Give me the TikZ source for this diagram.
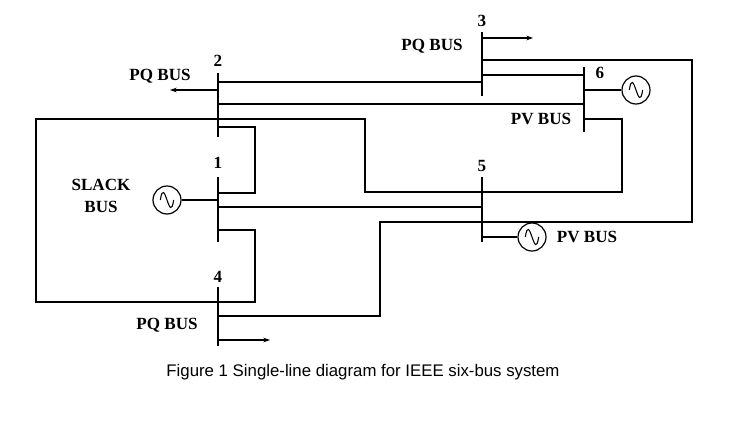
\documentclass[tikz,border=0pt]{standalone}
\usepackage{fontspec}
\setmainfont{Liberation Serif}
\newfontfamily\capfont{Liberation Sans}
\usetikzlibrary{arrows.meta}
\begin{document}
\begin{tikzpicture}[x=0.75pt,y=-0.75pt,
  bus/.style={line width=2.2pt},
  ln/.style={line width=0.9pt},
  lbl/.style={font=\bfseries\fontsize{12.8}{14}\selectfont,inner sep=0pt},
  gen/.style={circle,draw,line width=0.9pt,minimum size=21pt,inner sep=0pt},
  ld/.style={ln,-{Stealth[length=5pt,width=3.5pt]}}]
\useasboundingbox (0,0) rectangle (739,425);
% buses
\coordinate (b2t) at (218,73); \coordinate (b2b) at (218,137);
\coordinate (b1t) at (218,177); \coordinate (b1b) at (218,242);
\coordinate (b4t) at (218,287); \coordinate (b4b) at (218,346);
\coordinate (b3t) at (482,32); \coordinate (b3b) at (482,96);
\coordinate (b6t) at (584,67); \coordinate (b6b) at (584,132);
\coordinate (b5t) at (482,177); \coordinate (b5b) at (482,242);
\draw[bus] (b2t)--(b2b); \draw[bus] (b1t)--(b1b); \draw[bus] (b4t)--(b4b);
\draw[bus] (b3t)--(b3b); \draw[bus] (b6t)--(b6b); \draw[bus] (b5t)--(b5b);
% labels
\node[lbl] (n2) at (218,61) {2};
\node[lbl] (n1) at (218,163) {1};
\node[lbl] (n4) at (218,277) {4};
\node[lbl] (n3) at (482,21) {3};
\node[lbl] (n6) at (600,73) {6};
\node[lbl] (n5) at (482,166) {5};
\node[lbl] (l2) at (160,76) {PQ BUS};
\node[lbl] (l3) at (432,46) {PQ BUS};
\node[lbl] (l6) at (541,119) {PV BUS};
\node[lbl] (l5) at (587,237) {PV BUS};
\node[lbl] (l4) at (167,325) {PQ BUS};
\node[lbl,align=center,font=\bfseries\fontsize{12.8}{16.5}\selectfont] (l1) at (101,196) {SLACK\\BUS};
% generators
\node[gen] (g1) at (167,200) {};
\node[gen] (g6) at (636,90) {};
\node[gen] (g5) at (532,237) {};
\foreach \g in {g1,g6,g5}{
  \draw[line width=0.8pt] ([xshift=-5pt]\g.center) .. controls ([xshift=-2pt,yshift=20pt]\g.center) and ([xshift=2pt,yshift=-20pt]\g.center) .. ([xshift=5pt]\g.center);}
\draw[ln] (218,200) -- (g1.east);
\draw[ln] (584,90) -- (g6.west);
\draw[ln] (482,237) -- (g5.west);
% loads
\coordinate (a2) at (170,90); \coordinate (a3) at (533,38); \coordinate (a4) at (270,340);
\draw[ld] (218,90) -- (a2);
\draw[ld] (482,38) -- (a3);
\draw[ld] (218,340) -- (a4);
% lines
\draw[ln] (218,82) -- (482,82);
\draw[ln] (218,104) -- (584,104);
\draw[ln] (482,75) -- (584,75);
\draw[ln] (482,60) -- (692,60) -- (692,222) -- (380,222) -- (380,316) -- (218,316);
\draw[ln] (218,127) -- (255,127) -- (255,193) -- (218,193);
\draw[ln] (218,207) -- (482,207);
\draw[ln] (218,230) -- (255,230) -- (255,302) -- (36,302) -- (36,119) -- (365,119) -- (365,192) -- (622,192) -- (622,119) -- (584,119);
% caption
\node[font=\capfont\fontsize{12.6}{14}\selectfont] (cap) at (363,372) {Figure 1 Single-line diagram for IEEE six-bus system};
\end{tikzpicture}
\end{document}
